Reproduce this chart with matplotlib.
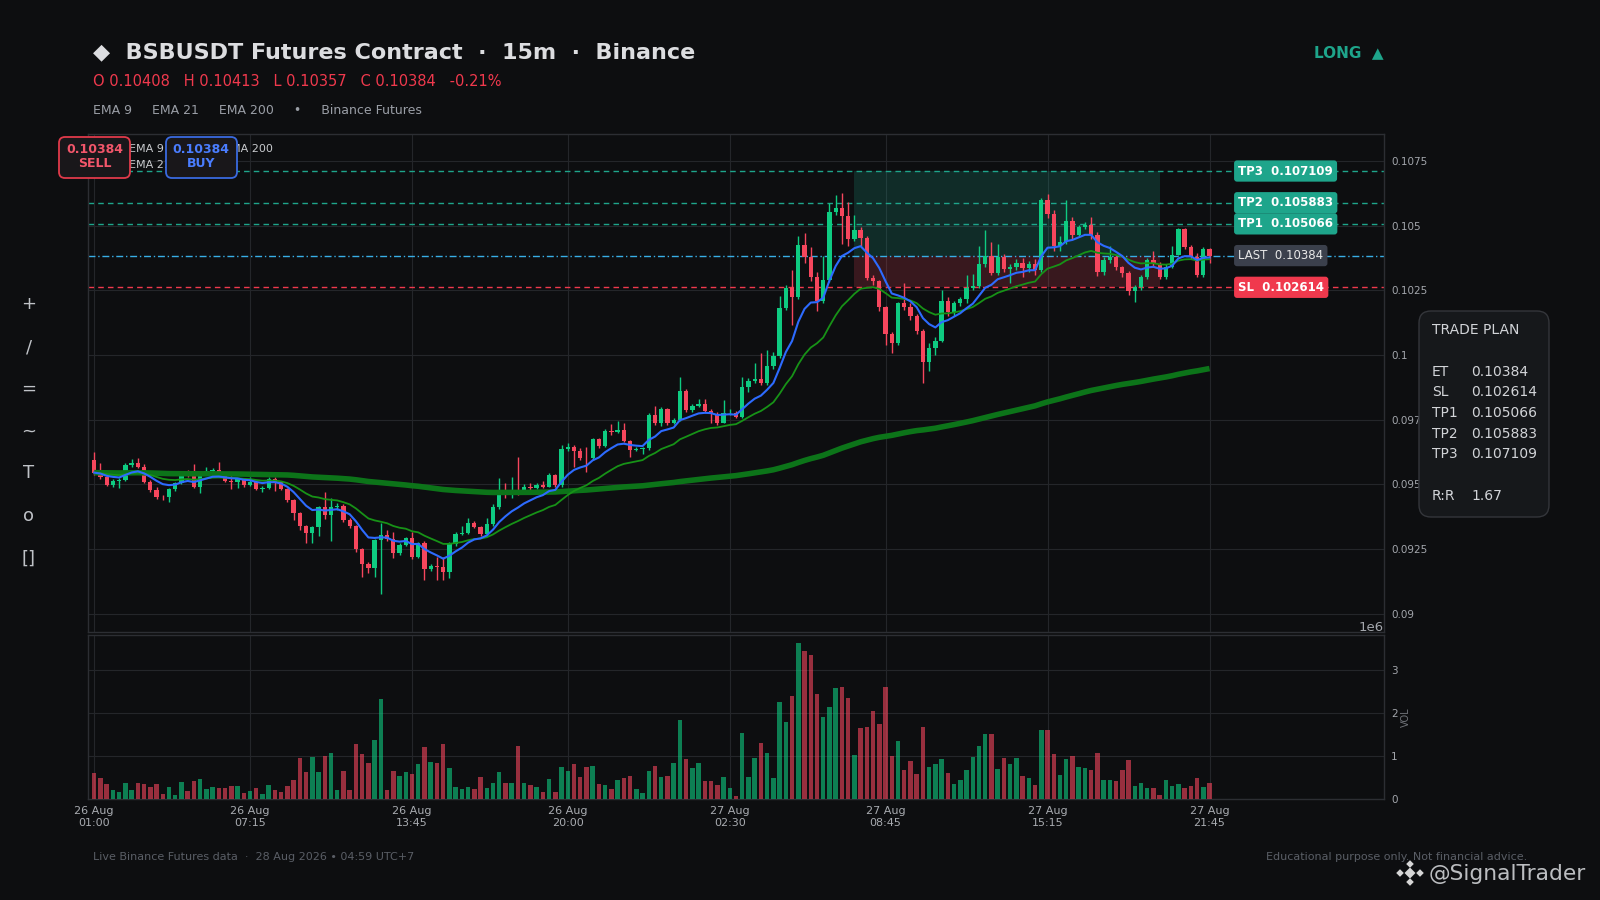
import numpy as np
import pandas as pd
import matplotlib
matplotlib.use("Agg")
import matplotlib.pyplot as plt
import matplotlib.ticker as mticker
from matplotlib.patches import FancyBboxPatch, RegularPolygon, Rectangle
from matplotlib.transforms import Affine2D

# ---- data ----
FIRST_OPEN = 0.09594

CLOSE = [
    0.09545, 0.09527, 0.09497, 0.09513, 0.09517, 0.09575, 0.09584, 0.09568, 0.09510, 0.09476,
    0.09452, 0.09449, 0.09481, 0.09506, 0.09545, 0.09533, 0.09491, 0.09543, 0.09552, 0.09555,
    0.09533, 0.09514, 0.09510, 0.09519, 0.09497, 0.09509, 0.09482, 0.09487, 0.09522, 0.09508,
    0.09483, 0.09439, 0.09388, 0.09339, 0.09311, 0.09333, 0.09412, 0.09381, 0.09411, 0.09415,
    0.09362, 0.09339, 0.09249, 0.09190, 0.09178, 0.09285, 0.09304, 0.09290, 0.09233, 0.09265,
    0.09291, 0.09220, 0.09272, 0.09171, 0.09184, 0.09179, 0.09162, 0.09269, 0.09308, 0.09313,
    0.09352, 0.09336, 0.09308, 0.09347, 0.09414, 0.09472, 0.09465, 0.09472, 0.09468, 0.09491,
    0.09486, 0.09497, 0.09491, 0.09536, 0.09497, 0.09635, 0.09646, 0.09630, 0.09603, 0.09600,
    0.09675, 0.09648, 0.09706, 0.09702, 0.09710, 0.09669, 0.09633, 0.09638, 0.09641, 0.09767,
    0.09736, 0.09790, 0.09738, 0.09749, 0.09862, 0.09787, 0.09803, 0.09809, 0.09785, 0.09771,
    0.09738, 0.09775, 0.09777, 0.09762, 0.09875, 0.09900, 0.09906, 0.09890, 0.09957, 0.09996,
    0.10180, 0.10258, 0.10225, 0.10425, 0.10378, 0.10300, 0.10210, 0.10290, 0.10554, 0.10567,
    0.10537, 0.10447, 0.10483, 0.10451, 0.10296, 0.10287, 0.10184, 0.10081, 0.10048, 0.10200,
    0.10184, 0.10152, 0.10094, 0.09974, 0.10026, 0.10055, 0.10209, 0.10165, 0.10202, 0.10215,
    0.10258, 0.10267, 0.10352, 0.10383, 0.10318, 0.10378, 0.10331, 0.10341, 0.10354, 0.10335,
    0.10352, 0.10329, 0.10599, 0.10545, 0.10421, 0.10438, 0.10518, 0.10464, 0.10494, 0.10503,
    0.10464, 0.10322, 0.10367, 0.10378, 0.10339, 0.10318, 0.10249, 0.10264, 0.10303, 0.10367,
    0.10352, 0.10303, 0.10341, 0.10385, 0.10487, 0.10416, 0.10380, 0.10309, 0.10408, 0.10384,
]

HIGH = [
    0.09626, 0.09581, 0.09530, 0.09520, 0.09523, 0.09584, 0.09597, 0.09603, 0.09577, 0.09518,
    0.09490, 0.09460, 0.09486, 0.09510, 0.09552, 0.09556, 0.09577, 0.09548, 0.09566, 0.09563,
    0.09588, 0.09549, 0.09539, 0.09525, 0.09523, 0.09530, 0.09512, 0.09492, 0.09529, 0.09527,
    0.09512, 0.09487, 0.09442, 0.09392, 0.09342, 0.09340, 0.09416, 0.09469, 0.09448, 0.09429,
    0.09422, 0.09368, 0.09343, 0.09252, 0.09200, 0.09290, 0.09352, 0.09323, 0.09317, 0.09272,
    0.09298, 0.09317, 0.09278, 0.09280, 0.09190, 0.09220, 0.09218, 0.09275, 0.09315, 0.09339,
    0.09369, 0.09358, 0.09340, 0.09369, 0.09424, 0.09523, 0.09506, 0.09530, 0.09607, 0.09500,
    0.09504, 0.09505, 0.09514, 0.09545, 0.09540, 0.09652, 0.09658, 0.09650, 0.09640, 0.09646,
    0.09680, 0.09678, 0.09712, 0.09733, 0.09745, 0.09738, 0.09672, 0.09645, 0.09646, 0.09775,
    0.09803, 0.09800, 0.09795, 0.09755, 0.09916, 0.09870, 0.09810, 0.09830, 0.09829, 0.09790,
    0.09780, 0.09826, 0.09790, 0.09785, 0.09916, 0.09911, 0.09968, 0.10007, 0.10020, 0.10010,
    0.10226, 0.10271, 0.10329, 0.10458, 0.10470, 0.10419, 0.10322, 0.10383, 0.10589, 0.10619,
    0.10625, 0.10593, 0.10541, 0.10496, 0.10460, 0.10310, 0.10290, 0.10190, 0.10090, 0.10205,
    0.10277, 0.10200, 0.10160, 0.10100, 0.10045, 0.10070, 0.10251, 0.10225, 0.10210, 0.10225,
    0.10310, 0.10313, 0.10421, 0.10483, 0.10438, 0.10429, 0.10390, 0.10350, 0.10370, 0.10374,
    0.10365, 0.10370, 0.10608, 0.10622, 0.10560, 0.10460, 0.10597, 0.10535, 0.10503, 0.10512,
    0.10535, 0.10475, 0.10380, 0.10420, 0.10385, 0.10345, 0.10325, 0.10270, 0.10310, 0.10375,
    0.10400, 0.10360, 0.10350, 0.10420, 0.10492, 0.10490, 0.10425, 0.10395, 0.10418, 0.10413,
]

LOW = [
    0.09536, 0.09519, 0.09495, 0.09490, 0.09485, 0.09512, 0.09565, 0.09562, 0.09505, 0.09470,
    0.09445, 0.09440, 0.09433, 0.09475, 0.09500, 0.09527, 0.09486, 0.09465, 0.09538, 0.09545,
    0.09528, 0.09508, 0.09482, 0.09485, 0.09490, 0.09492, 0.09476, 0.09472, 0.09483, 0.09474,
    0.09478, 0.09432, 0.09362, 0.09323, 0.09274, 0.09272, 0.09302, 0.09366, 0.09282, 0.09400,
    0.09355, 0.09330, 0.09240, 0.09143, 0.09156, 0.09143, 0.09076, 0.09280, 0.09214, 0.09228,
    0.09260, 0.09212, 0.09215, 0.09130, 0.09165, 0.09130, 0.09130, 0.09137, 0.09262, 0.09303,
    0.09308, 0.09330, 0.09300, 0.09302, 0.09340, 0.09405, 0.09446, 0.09446, 0.09460, 0.09462,
    0.09465, 0.09480, 0.09485, 0.09488, 0.09490, 0.09490, 0.09630, 0.09568, 0.09595, 0.09549,
    0.09595, 0.09640, 0.09645, 0.09690, 0.09700, 0.09662, 0.09604, 0.09627, 0.09618, 0.09633,
    0.09730, 0.09725, 0.09730, 0.09732, 0.09745, 0.09780, 0.09780, 0.09800, 0.09780, 0.09736,
    0.09730, 0.09735, 0.09768, 0.09755, 0.09755, 0.09855, 0.09890, 0.09885, 0.09882, 0.09945,
    0.09990, 0.10175, 0.10116, 0.10215, 0.10354, 0.10285, 0.10168, 0.10200, 0.10283, 0.10540,
    0.10430, 0.10420, 0.10440, 0.10420, 0.10290, 0.10270, 0.10170, 0.10039, 0.10006, 0.10040,
    0.10175, 0.10135, 0.10080, 0.09890, 0.09936, 0.10000, 0.10050, 0.10150, 0.10150, 0.10190,
    0.10200, 0.10250, 0.10260, 0.10340, 0.10310, 0.10310, 0.10320, 0.10277, 0.10330, 0.10300,
    0.10320, 0.10310, 0.10320, 0.10530, 0.10400, 0.10400, 0.10430, 0.10450, 0.10460, 0.10485,
    0.10450, 0.10305, 0.10310, 0.10355, 0.10330, 0.10300, 0.10232, 0.10206, 0.10250, 0.10295,
    0.10340, 0.10295, 0.10295, 0.10335, 0.10385, 0.10410, 0.10370, 0.10300, 0.10300, 0.10357,
]

# volume in millions of contracts
VOL_M = [
    0.61, 0.49, 0.35, 0.21, 0.16, 0.37, 0.21, 0.37, 0.35, 0.28,
    0.35, 0.12, 0.28, 0.09, 0.40, 0.19, 0.42, 0.47, 0.23, 0.28,
    0.26, 0.26, 0.30, 0.30, 0.14, 0.19, 0.26, 0.12, 0.33, 0.21,
    0.16, 0.30, 0.44, 0.96, 0.63, 0.98, 0.63, 1.00, 1.07, 0.21,
    0.65, 0.21, 1.28, 1.05, 0.84, 1.38, 2.33, 0.21, 0.65, 0.54,
    0.63, 0.58, 0.82, 1.21, 0.86, 0.84, 1.28, 0.72, 0.28, 0.23,
    0.28, 0.23, 0.51, 0.26, 0.37, 0.63, 0.37, 0.37, 1.24, 0.37,
    0.33, 0.28, 0.16, 0.47, 0.16, 0.75, 0.65, 0.82, 0.51, 0.75,
    0.77, 0.35, 0.33, 0.23, 0.44, 0.49, 0.54, 0.23, 0.14, 0.65,
    0.77, 0.51, 0.54, 0.84, 1.84, 0.93, 0.72, 0.84, 0.42, 0.42,
    0.33, 0.51, 0.26, 0.07, 1.54, 0.51, 0.96, 1.31, 1.07, 0.49,
    2.26, 1.79, 2.40, 3.64, 3.45, 3.36, 2.45, 1.91, 2.14, 2.59,
    2.61, 2.35, 1.03, 1.66, 1.68, 2.05, 1.75, 2.61, 1.00, 1.35,
    0.68, 0.89, 0.58, 1.68, 0.75, 0.82, 0.93, 0.61, 0.35, 0.44,
    0.68, 0.98, 1.24, 1.52, 1.52, 0.70, 0.96, 0.82, 0.96, 0.54,
    0.49, 0.33, 1.61, 1.61, 1.05, 0.56, 0.93, 1.00, 0.75, 0.72,
    0.68, 1.07, 0.44, 0.44, 0.42, 0.68, 0.91, 0.30, 0.37, 0.26,
    0.26, 0.09, 0.44, 0.30, 0.35, 0.26, 0.30, 0.49, 0.28, 0.37,
]

TICK_IDX = [0, 25, 51, 76, 102, 127, 153, 179]
TICK_LABELS = ["26 Aug\n01:00", "26 Aug\n07:15", "26 Aug\n13:45", "26 Aug\n20:00",
               "27 Aug\n02:30", "27 Aug\n08:45", "27 Aug\n15:15", "27 Aug\n21:45"]
PRICE_TICKS = [0.09, 0.0925, 0.095, 0.0975, 0.1, 0.1025, 0.105, 0.1075]
VOL_TICKS = [0, 1e6, 2e6, 3e6]

ENTRY = 0.10384
SL = 0.102614
TP1, TP2, TP3 = 0.105066, 0.105883, 0.107109
RR = 1.67
CHANGE_PCT = -0.21
ZONE_START, ZONE_END = 122, 171

# ---- style ----
W, H = 1600, 900
BG = "#0d0e10"
GRID = "#24262a"
SPINE = "#2c2e33"
UP = "#0ecb81"
DN = "#f6465d"
TEAL = "#1ea58b"
TXT = "#a3a6ac"


def fx(x):
    return x / W


def fy(y):
    return 1 - y / H


fig = plt.figure(figsize=(16, 9), dpi=100, facecolor=BG)
px = Affine2D().scale(1 / W, 1 / H) + fig.transFigure

ax = fig.add_axes([fx(88), fy(632), (1384 - 88) / W, (632 - 134) / H])
axv = fig.add_axes([fx(88), fy(799), (1384 - 88) / W, (799 - 635) / H], sharex=ax)

close = np.array(CLOSE)
high = np.array(HIGH)
low = np.array(LOW)
vol = np.array(VOL_M) * 1e6
open_ = np.concatenate([[FIRST_OPEN], close[:-1]])
idx = np.arange(len(close))
up = close >= open_
colors = np.where(up, UP, DN)

s = pd.Series(close)
ema9 = s.ewm(span=9, adjust=False).mean()
ema21 = s.ewm(span=21, adjust=False).mean()
ema200 = s.ewm(span=200, adjust=False).mean()

for a in (ax, axv):
    a.set_facecolor(BG)
    for sp in a.spines.values():
        sp.set_color(SPINE)
        sp.set_linewidth(1)
    a.grid(True, color=GRID, lw=0.8)
    a.set_axisbelow(True)

# trade zones
ax.add_patch(Rectangle((ZONE_START, ENTRY), ZONE_END - ZONE_START, TP3 - ENTRY,
                       facecolor=TEAL, alpha=0.2, lw=0, zorder=1))
ax.add_patch(Rectangle((ZONE_START, SL), ZONE_END - ZONE_START, ENTRY - SL,
                       facecolor=DN, alpha=0.19, lw=0, zorder=1))

# level lines
for lvl in (TP1, TP2, TP3):
    ax.axhline(lvl, color=TEAL, lw=1, ls=(0, (4, 3)), zorder=2)
ax.axhline(ENTRY, color="#38aee6", lw=1, ls=(0, (5, 2, 1, 2)), zorder=2)
ax.axhline(SL, color="#f0394d", lw=1, ls=(0, (4, 3)), zorder=2)

# candles
ax.vlines(idx, low, high, colors=colors, lw=1, zorder=3)
body = np.maximum(np.abs(close - open_), 0.00002)
ax.bar(idx, body, bottom=np.minimum(open_, close), width=0.68, color=colors,
       linewidth=0, zorder=3.5)

l200, = ax.plot(idx, ema200, color="#0c7419", lw=4, zorder=4, label="EMA 200",
                solid_capstyle="butt")
l21, = ax.plot(idx, ema21, color="#179217", lw=1.3, zorder=4.2, label="EMA 21")
l9, = ax.plot(idx, ema9, color="#2d6bff", lw=1.5, zorder=4.4, label="EMA 9")

ax.legend(handles=[l9, l21, l200], loc="upper left", ncol=2, fontsize=8,
          frameon=False, labelcolor="#c8cacd", borderaxespad=0.5)

# right-side level labels
labels = [
    (TP3, f"TP3  {TP3:g}", TEAL, "white", "bold"),
    (TP2, f"TP2  {TP2:g}", TEAL, "white", "bold"),
    (TP1, f"TP1  {TP1:g}", TEAL, "white", "bold"),
    (ENTRY, f"LAST  {ENTRY:g}", "#3b404c", "#e8e8e8", "normal"),
    (SL, f"SL  {SL:g}", "#f0394d", "white", "bold"),
]
for val, txt, fc, tc, wt in labels:
    ax.text(183.6, val, txt, ha="left", va="center", fontsize=8.5, color=tc,
            fontweight=wt, zorder=6,
            bbox=dict(boxstyle="round,pad=0.35,rounding_size=0.25", fc=fc, ec="none"))

ax.set_xlim(-1, 207)
ax.set_ylim(0.08929, 0.10854)
ax.set_yticks(PRICE_TICKS)
ax.yaxis.set_major_formatter(mticker.FormatStrFormatter("%g"))
ax.yaxis.tick_right()
ax.tick_params(axis="y", colors=TXT, labelsize=7.5, length=0, pad=5)
ax.set_xticks(TICK_IDX)
ax.tick_params(axis="x", labelbottom=False, length=0)

# volume
axv.bar(idx, vol, width=0.72, color=colors, alpha=0.6, linewidth=0, zorder=3)
axv.set_ylim(0, vol.max() * 1.05)
axv.set_yticks(VOL_TICKS)
axv.yaxis.tick_right()
axv.tick_params(axis="y", colors=TXT, labelsize=7.5, length=0, pad=5)
axv.yaxis.get_offset_text().set_fontsize(9.5)
axv.yaxis.get_offset_text().set_color(TXT)
axv.set_xticks(TICK_IDX)
axv.set_xticklabels(TICK_LABELS)
axv.tick_params(axis="x", colors="#a8abb0", labelsize=8, length=0, pad=5)
fig.text(fx(1406), fy(717), "VOL", rotation=90, ha="center", va="center",
         fontsize=7, color="#6f7278")

# header
fig.text(fx(93), fy(52), "◆  BSBUSDT Futures Contract  ·  15m  ·  Binance",
         fontsize=16, fontweight="bold", color="#dcdde0", va="center")
fig.text(fx(93), fy(81.5),
         f"O {open_[-1]:.5f}   H {high[-1]:.5f}   L {low[-1]:.5f}   "
         f"C {close[-1]:.5f}   {CHANGE_PCT:.2f}%",
         fontsize=10.5, color="#f0394d", va="center")
fig.text(fx(93), fy(110), "EMA 9     EMA 21     EMA 200     •     Binance Futures",
         fontsize=9, color="#9a9ea6", va="center")
fig.text(fx(1384), fy(53), "LONG  ▲", fontsize=11, fontweight="bold", color=TEAL,
         ha="right", va="center")

# sell / buy boxes (drawn over the legend, as in the terminal layout)
for cx, x0, ec, tc, side in [(94.5, 59, "#e03a4a", "#f2566a", "SELL"),
                             (201, 166, "#3a6ae0", "#4a7dff", "BUY")]:
    fig.add_artist(FancyBboxPatch((x0, H - 178), 71, 41,
                                  boxstyle="round,pad=0,rounding_size=6",
                                  fc="#19171a", ec=ec, lw=1.3, transform=px, zorder=5))
    fig.text(fx(cx), fy(149.5), f"{close[-1]:.5f}", ha="center", va="center",
             fontsize=9, fontweight="bold", color=tc, zorder=6)
    fig.text(fx(cx), fy(163.5), side, ha="center", va="center",
             fontsize=9, fontweight="bold", color=tc, zorder=6)

# trade plan box
fig.add_artist(FancyBboxPatch((1419, H - 517), 130, 206,
                              boxstyle="round,pad=0,rounding_size=12",
                              fc="#16181b", ec="#34363b", lw=1, transform=px, zorder=5))
plan = [("TRADE PLAN", ""), ("", ""), ("ET", f"{ENTRY:g}"), ("SL", f"{SL:g}"),
        ("TP1", f"{TP1:g}"), ("TP2", f"{TP2:g}"), ("TP3", f"{TP3:g}"), ("", ""),
        ("R:R", f"{RR:g}")]
for k, (lab, val) in enumerate(plan):
    yy = 330 + 20.75 * k
    fig.text(fx(1432), fy(yy), lab, fontsize=10, color="#d2d4d8", va="center", zorder=6)
    if val:
        fig.text(fx(1471), fy(yy), val, fontsize=10, color="#d2d4d8", va="center", zorder=6)

# left toolbar
for sym, yy in zip(["+", "/", "=", "~", "T", "o", "[]"],
                   [304, 347, 389, 432, 473.5, 516, 559]):
    fig.text(fx(28.6), fy(yy), sym, ha="center", va="center", fontsize=13, color="#bfc2c7")

# footer
fig.text(fx(93), fy(857), "Live Binance Futures data  ·  28 Aug 2026 • 04:59 UTC+7",
         fontsize=8, color="#5a5e66", va="center")
fig.text(fx(1527), fy(857), "Educational purpose only. Not financial advice.",
         fontsize=8, color="#5a5e66", va="center", ha="right")

# watermark
for dx, dy, r in [(0, 0, 5.5), (-10, 0, 3.8), (10, 0, 3.8), (0, 9, 3.8), (0, -9, 3.8)]:
    fig.add_artist(RegularPolygon((1410 + dx, H - 873 + dy), numVertices=4, radius=r,
                                  orientation=0, fc="#d6d6d6", ec="none", transform=px))
fig.text(fx(1429), fy(874), "@SignalTrader", fontsize=15.7, color="#cfd1d4",
         va="center", alpha=0.9)

fig.savefig("out.png", dpi=100, facecolor=BG)
